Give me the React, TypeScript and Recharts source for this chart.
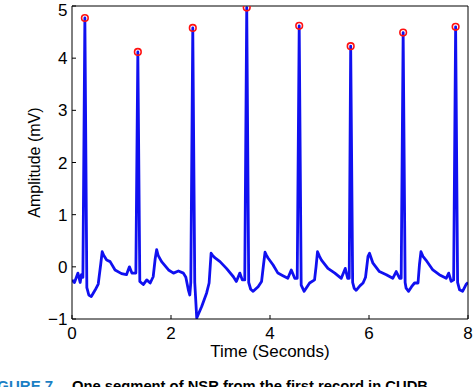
import React from "react";
import {
  ComposedChart,
  Line,
  Scatter,
  XAxis,
  YAxis,
} from "recharts";

// ECG trace (seconds, mV)
const ecgTime = [
  0.0, 0.05, 0.12, 0.165, 0.19, 0.22, 0.26, 0.3, 0.34, 0.39, 0.47, 0.53, 0.58, 0.61, 0.64, 0.7, 0.77, 0.87, 1.0, 1.1,
  1.16, 1.21, 1.29, 1.33, 1.37, 1.44, 1.51, 1.58, 1.64, 1.68, 1.71, 1.74, 1.81, 1.95, 2.05, 2.15, 2.25, 2.3, 2.35,
  2.38, 2.4, 2.44, 2.48, 2.52, 2.62, 2.72, 2.77, 2.81, 2.84, 2.89, 2.99, 3.12, 3.26, 3.32, 3.39, 3.44, 3.49, 3.53,
  3.57, 3.61, 3.66, 3.76, 3.83, 3.87, 3.9, 3.93, 3.96, 4.06, 4.16, 4.26, 4.36, 4.43, 4.5, 4.55, 4.59, 4.63, 4.69,
  4.8, 4.9, 4.93, 4.96, 5.0, 5.04, 5.17, 5.31, 5.44, 5.52, 5.57, 5.6, 5.63, 5.67, 5.7, 5.74, 5.82, 5.88, 5.93, 5.98,
  6.01, 6.05, 6.08, 6.21, 6.35, 6.48, 6.55, 6.62, 6.65, 6.69, 6.73, 6.75, 6.8, 6.86, 6.92, 6.99, 7.02, 7.05, 7.09,
  7.15, 7.29, 7.42, 7.56, 7.61, 7.66, 7.71, 7.75, 7.79, 7.83, 7.89, 7.96, 8.0,
];
const ecgAmp = [
  -0.25, -0.3, -0.12, -0.3, -0.15, -0.2, 4.77, -0.4, -0.54, -0.57, -0.44, -0.33, 0.05, 0.29, 0.22, 0.13, 0.1, -0.06,
  -0.13, -0.15, 0.0, -0.12, -0.12, 4.12, -0.28, -0.34, -0.25, -0.31, -0.19, 0.15, 0.33, 0.22, 0.1, -0.06, -0.12,
  -0.08, -0.12, -0.2, -0.44, -0.54, -0.3, 4.58, -0.3, -0.98, -0.76, -0.5, -0.31, 0.26, 0.22, 0.17, 0.1, -0.03, -0.19,
  -0.28, -0.12, -0.25, -0.25, 4.97, -0.3, -0.43, -0.47, -0.38, -0.28, 0.05, 0.28, 0.22, 0.17, 0.04, -0.12, -0.17,
  -0.22, -0.06, -0.22, -0.22, 4.62, -0.35, -0.47, -0.31, -0.25, 0.0, 0.29, 0.2, 0.13, -0.03, -0.12, -0.22, -0.03,
  -0.22, -0.22, 4.23, -0.3, -0.41, -0.45, -0.36, -0.31, -0.2, 0.2, 0.26, 0.15, 0.07, -0.09, -0.15, -0.22, -0.09,
  -0.22, -0.22, 4.49, -0.3, -0.41, -0.47, -0.38, -0.31, -0.31, 0.05, 0.29, 0.2, 0.13, -0.06, -0.15, -0.22, -0.12,
  -0.28, -0.25, 4.6, -0.3, -0.44, -0.47, -0.34, -0.3,
];

// detected R peaks
const peakTime = [0.26, 1.33, 2.44, 3.53, 4.59, 5.63, 6.69, 7.75];
const peakAmp = [4.77, 4.12, 4.58, 4.97, 4.62, 4.23, 4.49, 4.6];

const xTicks = [0, 2, 4, 6, 8];
const yTicks = [-1, 0, 1, 2, 3, 4, 5];

const FONT = '"Liberation Sans", Arial, Helvetica, sans-serif';

const fmt = (v: number) => String(v).replace("-", "\u2212");

export default function App() {
  const ecg = ecgTime.map((t, i) => ({ t, v: ecgAmp[i] }));
  const peaks = peakTime.map((t, i) => ({ t, v: peakAmp[i] }));

  const tickStyle = { fill: "#000", fontSize: 17, fontFamily: FONT };

  return (
    <div style={{ position: "absolute", left: 0, top: 0, width: 474, height: 387, background: "#fff" }}>
      <ComposedChart width={474} height={387} margin={{ top: 5, right: 5, bottom: 0, left: 0 }}>
        <XAxis
          dataKey="t"
          type="number"
          domain={[0, 8]}
          ticks={xTicks}
          allowDataOverflow
          height={68}
          tickSize={-4}
          tickMargin={12}
          tick={tickStyle}
          tickFormatter={fmt}
          stroke="#000"
          label={{
            value: "Time (Seconds)",
            position: "insideBottom",
            offset: 30,
            style: { fill: "#000", fontSize: 17, fontFamily: FONT },
          }}
        />
        <XAxis
          xAxisId="top"
          orientation="top"
          type="number"
          domain={[0, 8]}
          ticks={xTicks}
          height={1}
          tickSize={-4}
          tick={false}
          stroke="#000"
        />
        <YAxis
          type="number"
          domain={[-1, 5]}
          ticks={yTicks}
          allowDataOverflow
          width={72}
          tickSize={-4}
          tickMargin={8.5}
          tick={tickStyle}
          tickFormatter={fmt}
          stroke="#000"
          label={{
            value: "Amplitude (mV)",
            angle: -90,
            position: "insideLeft",
            offset: 34,
            style: { fill: "#000", fontSize: 16, fontFamily: FONT, textAnchor: "middle" },
          }}
        />
        <YAxis
          yAxisId="right"
          orientation="right"
          type="number"
          domain={[-1, 5]}
          ticks={yTicks}
          width={1}
          tickSize={-4}
          tick={false}
          stroke="#000"
        />
        <Line
          data={ecg}
          dataKey="v"
          type="linear"
          stroke="#1010f0"
          strokeWidth={2.8}
          strokeLinejoin="round"
          dot={false}
          isAnimationActive={false}
        />
        <Scatter
          data={peaks}
          dataKey="v"
          isAnimationActive={false}
          shape={(p: any) => (
            <circle cx={p.cx} cy={p.cy} r={3.3} fill="none" stroke="#ff1010" strokeWidth={1.6} />
          )}
        />
      </ComposedChart>
      <svg
        width={474}
        height={387}
        style={{ position: "absolute", left: 0, top: 0, pointerEvents: "none" }}
      >
        <text y={391} fontFamily={FONT} fontWeight="bold" fontSize={15}>
          <tspan x={-16} fill="#1b7fc4">FIGURE 7.</tspan>
          <tspan x={72} fill="#000" textLength={356} lengthAdjust="spacingAndGlyphs">
            One segment of NSR from the first record in CUDB
          </tspan>
        </text>
      </svg>
    </div>
  );
}
